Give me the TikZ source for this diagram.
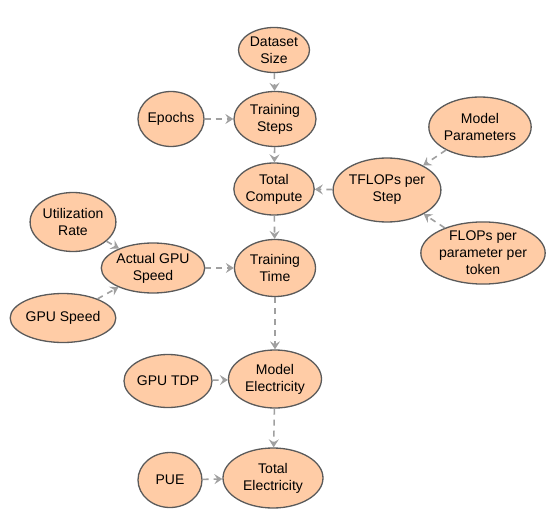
\documentclass[tikz,border=0pt]{standalone}
\usepackage{fontspec}
\setmainfont{Liberation Sans}
\usetikzlibrary{shapes.geometric,arrows.meta,positioning}
\definecolor{factorfill}{RGB}{255,204,166}
\definecolor{factorline}{RGB}{90,90,90}
\definecolor{linkgray}{RGB}{160,160,160}
\tikzset{
    factor/.style={ellipse, draw=factorline, fill=factorfill, line width=1.3pt, inner sep=0pt, align=center, font=\fontsize{14}{17}\selectfont},
    link/.style={-{Stealth[length=8pt,width=10pt,inset=3pt]}, draw=linkgray, line width=1.6pt, dash pattern=on 6pt off 5pt},
}

\begin{document}
\begin{tikzpicture}[x=1pt,y=-1pt]
    \useasboundingbox (0,0) rectangle (556,529);

    % Compute chain
    \node[factor, minimum width=71pt, minimum height=45pt] (dataset) at (274,50) {Dataset\\Size};
    \node[factor, minimum width=62pt, minimum height=55pt] (epochs) at (171,119) {Epochs};
    \node[factor, minimum width=82pt, minimum height=55pt] (steps) at (275,119) {Training\\Steps};
    \node[factor, minimum width=70pt, minimum height=52pt] (compute) at (274,189) {Total\\Compute};

    % FLOPs side
    \node[factor, minimum width=91pt, minimum height=60pt] (params) at (480,127) {Model\\Parameters};
    \node[factor, minimum width=87pt, minimum height=64pt] (tflops) at (387,190) {TFLOPs per\\Step};
    \node[factor, minimum width=100pt, minimum height=61pt] (flops) at (483,253) {FLOPs per\\parameter per\\token};

    % GPU side
    \node[factor, minimum width=81pt, minimum height=59pt] (util) at (73,222) {Utilization\\Rate};
    \node[factor, minimum width=100pt, minimum height=50pt] (actual) at (153,268) {Actual GPU\\Speed};
    \node[factor, minimum width=81pt, minimum height=49pt] (gpuspeed) at (63,318) {GPU Speed};
    \node[factor, minimum width=81pt, minimum height=57pt] (time) at (275,268) {Training\\Time};

    % Electricity
    \node[factor, minimum width=69pt, minimum height=53pt] (tdp) at (168,381) {GPU TDP};
    \node[factor, minimum width=93pt, minimum height=58pt] (melec) at (275,379) {Model\\Electricity};
    \node[factor, minimum width=64pt, minimum height=55pt] (pue) at (170,480) {PUE};
    \node[factor, minimum width=100pt, minimum height=60pt] (telec) at (273,478) {Total\\Electricity};

    % Links
    \draw[link] (dataset) -- (steps);
    \draw[link] (epochs) -- (steps);
    \draw[link] (steps) -- (compute);
    \draw[link] (params) -- (tflops);
    \draw[link] (flops) -- (tflops);
    \draw[link] (tflops) -- (compute);
    \draw[link] (compute) -- (time);
    \draw[link] (util) -- (actual);
    \draw[link] (gpuspeed) -- (actual);
    \draw[link] (actual) -- (time);
    \draw[link] (time) -- (melec);
    \draw[link] (tdp) -- (melec);
    \draw[link] (melec) -- (telec);
    \draw[link] (pue) -- (telec);
\end{tikzpicture}
\end{document}
